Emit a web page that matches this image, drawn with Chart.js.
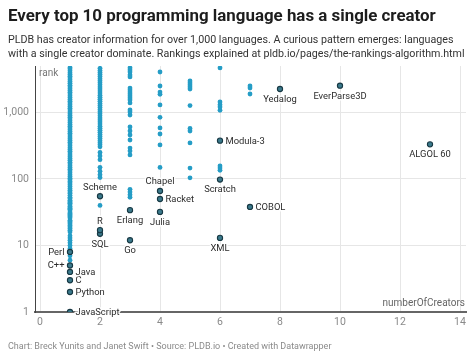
<!DOCTYPE html>
<html>
<head>
<meta charset="utf-8">
<script src="https://cdn.jsdelivr.net/npm/chart.js@4/dist/chart.umd.min.js"></script>
<style>
  html, body { margin: 0; padding: 0; background: #fff; }
  body { width: 474px; height: 360px; position: relative; overflow: hidden; font-family: Roboto, "Noto Sans", sans-serif; }
  #title { position: absolute; left: 8px; top: 5px; font-size: 16.9px; font-weight: 700; color: #1d1d1d; white-space: nowrap; }
  #sub { position: absolute; left: 8px; top: 33px; font-size: 10.7px; line-height: 13.5px; color: #333; white-space: nowrap; }
  #foot { position: absolute; left: 8px; top: 341px; font-size: 9px; color: #8a8a8a; white-space: nowrap; }
  canvas { position: absolute; left: 0; top: 0; }
</style>
</head>
<body>
<canvas id="c" width="474" height="360"></canvas>
<div id="title">Every top 10 programming language has a single creator</div>
<div id="sub">PLDB has creator information for over 1,000 languages. A curious pattern emerges: languages<br>with a single creator dominate. Rankings explained at pldb.io/pages/the-rankings-algorithm.html</div>
<div id="foot">Chart: Breck Yunits and Janet Swift • Source: PLDB.io • Created with Datawrapper</div>
<script>
// ---- data ----
const xTicks = [0, 2, 4, 6, 8, 10, 12, 14];
const yTicks = [1, 10, 100, 1000];

const ranksOneCreator = [6, 7, 9, 10, 11, 12, 13, 14, 16, 17, 18, 19, 20, 21, 22, 23, 24, 26, 27, 28, 29, 30, 31, 33, 35, 36, 37, 39, 41, 43, 44, 46, 48, 51, 53, 57, 61, 64, 68, 72, 77, 82, 87, 92, 97, 103, 109, 116, 124, 132, 140, 149, 158, 168, 179, 191, 203, 216, 230, 245, 261, 278, 296, 315, 335, 356, 379, 403, 429, 457, 486, 517, 550, 585, 622, 662, 704, 749, 797, 848, 902, 960, 1021, 1086, 1155, 1229, 1307, 1390, 1479, 1573, 1673, 1780, 1893, 2014, 2142, 2278, 2423, 2577, 2741, 2916, 3102, 3300, 3510, 3734, 3972, 4225, 4494, 4700];
const ranksTwoCreators = [40, 105, 116, 131, 150, 195, 222, 251, 305, 327, 352, 377, 405, 436, 468, 503, 540, 580, 623, 669, 719, 772, 829, 891, 957, 1028, 1104, 1186, 1274, 1368, 1470, 1579, 1696, 1822, 1957, 2102, 2258, 2425, 2605, 2798, 3005, 3228, 3467, 3724, 4000, 4296, 4614];
const ranksThreeCreators = [53, 58, 64, 70, 230, 264, 292, 386, 459, 527, 605, 917, 1020, 1090, 1390, 1540, 1650, 1770, 1900, 2030, 2180, 2330, 3420, 3660, 4060, 4360, 4670];
const ranksFourCreators = [149, 325, 475, 585, 847, 1300, 1880, 2030, 2500, 4060];
const ranksFiveCreators = [104, 146, 348, 527, 575, 1270, 2256, 2420, 2590, 2780, 2980];
const ranksSixCreators = [135, 146, 157, 1080, 1210, 1310, 1440, 4670];
const ranksSevenCreators = [1897, 2335, 2500];

const labelNames = ['JavaScript', 'Python', 'C', 'Java', 'C++', 'Perl', 'SQL', 'R', 'Scheme', 'Go', 'Erlang', 'Julia', 'Racket', 'Chapel', 'XML', 'Scratch', 'Modula-3', 'COBOL', 'Yedalog', 'EverParse3D', 'ALGOL 60'];
const labelCreators = [1, 1, 1, 1, 1, 1, 2, 2, 2, 3, 3, 4, 4, 4, 6, 6, 6, 7, 8, 10, 13];
const labelRanks = [1, 2, 3, 4, 5, 8, 15, 17, 55, 12, 34, 32, 50, 66, 13, 98, 377, 38, 2256, 2530, 332];

// label placement (style)
const placement = {
  'JavaScript': 'right', 'Python': 'right', 'C': 'right', 'Java': 'right', 'Racket': 'right', 'Modula-3': 'right', 'COBOL': 'right',
  'C++': 'left', 'Perl': 'left',
  'R': 'above', 'Scheme': 'above', 'Chapel': 'above'
};

// ---- build datasets ----
const columns = [ranksOneCreator, ranksTwoCreators, ranksThreeCreators, ranksFourCreators, ranksFiveCreators, ranksSixCreators, ranksSevenCreators];
const otherPoints = [];
columns.forEach((arr, i) => arr.forEach(r => otherPoints.push({ x: i + 1, y: r })));
const labeledPoints = labelNames.map((n, i) => ({ x: labelCreators[i], y: labelRanks[i], name: n }));

const labelPlugin = {
  id: 'pointLabels',
  afterDatasetsDraw(chart) {
    const ctx = chart.ctx;
    const meta = chart.getDatasetMeta(0);
    ctx.save();
    ctx.font = '9.4px Roboto';
    ctx.lineJoin = 'round';
    meta.data.forEach((el, i) => {
      const name = labelNames[i];
      const pos = placement[name] || 'below';
      let tx = el.x, ty = el.y;
      if (pos === 'right') { ctx.textAlign = 'left'; ctx.textBaseline = 'middle'; tx += 5.5; }
      else if (pos === 'left') { ctx.textAlign = 'right'; ctx.textBaseline = 'middle'; tx -= 5.5; }
      else if (pos === 'above') { ctx.textAlign = 'center'; ctx.textBaseline = 'middle'; ty -= 9.5; }
      else { ctx.textAlign = 'center'; ctx.textBaseline = 'middle'; ty += 10; }
      ctx.strokeStyle = 'rgba(255,255,255,0.95)';
      ctx.lineWidth = 3;
      ctx.strokeText(name, tx, ty + 0.5);
      ctx.fillStyle = '#2b2b2b';
      ctx.fillText(name, tx, ty + 0.5);
    });
    // axis titles
    ctx.font = '10px Roboto';
    ctx.fillStyle = '#777';
    ctx.textAlign = 'left';
    ctx.textBaseline = 'middle';
    ctx.fillText('rank', chart.chartArea.left + 4, chart.chartArea.top + 7);
    ctx.textAlign = 'right';
    ctx.fillStyle = '#666';
    ctx.fillText('numberOfCreators', chart.chartArea.right - 1, chart.chartArea.bottom - 9);
    ctx.restore();
  }
};

Chart.defaults.font.family = 'Roboto';

new Chart(document.getElementById('c'), {
  type: 'scatter',
  data: {
    datasets: [
      {
        label: 'highlighted',
        data: labeledPoints,
        pointRadius: 2.6,
        pointBackgroundColor: '#3b7a8c',
        pointBorderColor: '#173843',
        pointBorderWidth: 1.1,
        pointHoverRadius: 2.6
      },
      {
        label: 'other',
        data: otherPoints,
        pointRadius: 2.4,
        pointBackgroundColor: '#259dc6',
        pointBorderColor: '#259dc6',
        pointBorderWidth: 0,
        pointHoverRadius: 2.4
      }
    ]
  },
  options: {
    responsive: false,
    animation: false,
    devicePixelRatio: 1,
    layout: { padding: { left: 0, right: 8, top: 66, bottom: 28 } },
    plugins: { legend: { display: false }, tooltip: { enabled: false } },
    events: [],
    scales: {
      x: {
        type: 'linear',
        min: -1 / 6,
        max: 14.2,
        afterBuildTicks: s => { s.ticks = xTicks.map(v => ({ value: v })); },
        afterFit: s => { s.height = 20; },
        ticks: { color: '#8a8a8a', font: { size: 10.5 }, padding: 4, maxRotation: 0, autoSkip: false },
        grid: { color: '#e6e6e6', lineWidth: 1, drawTicks: false },
        border: { display: true, color: '#666', width: 2 }
      },
      y: {
        type: 'logarithmic',
        min: 1,
        max: 5000,
        afterBuildTicks: s => { s.ticks = yTicks.map(v => ({ value: v })); },
        afterFit: s => { s.width = 35; },
        ticks: {
          color: '#8a8a8a', font: { size: 10.5 }, padding: 6, autoSkip: false,
          callback: v => Number(v).toLocaleString('en-US')
        },
        grid: { color: c => (c.tick && c.tick.value === 1 ? 'rgba(0,0,0,0)' : '#e6e6e6'), lineWidth: 1, drawTicks: false },
        border: { display: true, color: '#444', width: 1 }
      }
    }
  },
  plugins: [labelPlugin]
});
</script>
</body>
</html>
